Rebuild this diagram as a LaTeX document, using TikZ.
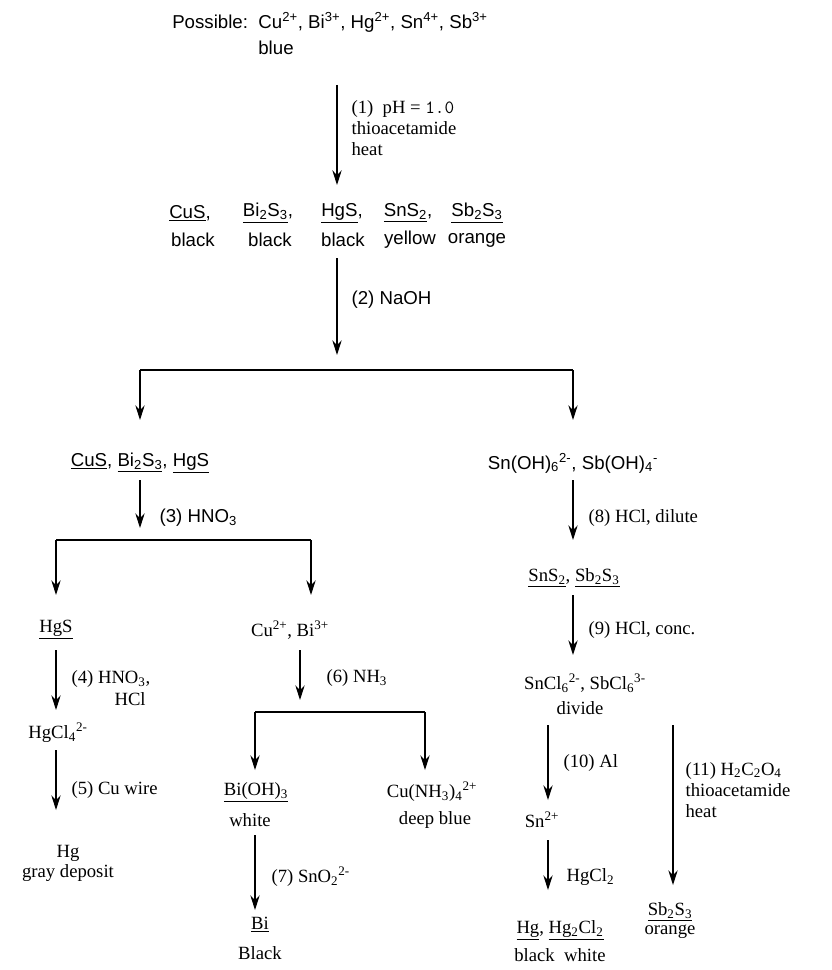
\documentclass[tikz,border=0pt]{standalone}
\usepackage{fontspec}
\setmainfont{Liberation Serif}
\newfontfamily\sansf{Liberation Sans}
\usetikzlibrary{arrows.meta}
\newcommand{\tsp}[1]{\textsuperscript{#1}}
\newcommand{\tsb}[1]{\textsubscript{#1}}
\begin{document}
\begin{tikzpicture}[x=0.75pt,y=-0.75pt,
  every node/.style={inner sep=1pt,font=\fontsize{14}{16}\selectfont},
  sf/.style={font=\fontsize{14}{16}\selectfont\sansf},
  lbl/.style={anchor=west,align=left},
  arr/.style={line width=0.9pt,-{Stealth[length=11pt,width=7pt]}},
  ln/.style={line width=0.9pt}]
\useasboundingbox (0,0) rectangle (831,970);
% top
\node[sf] (top) at (330,22) {Possible:\ \ Cu\tsp{2+}, Bi\tsp{3+}, Hg\tsp{2+}, Sn\tsp{4+}, Sb\tsp{3+}};
\node[sf] (blue) at (276,48) {blue};
\coordinate (a1s) at (337,85); \coordinate (a1e) at (337,185);
\draw[arr] (a1s) -- (a1e);
\node[lbl] (l1) at (350,128) {(1)\ \ pH = {\ttfamily 1.0}\\thioacetamide\\heat};
% row 2
\node[sf] (cus) at (190,213) {\underline{CuS},};
\node[sf] (bis) at (268,213) {\underline{Bi\tsb{2}S\tsb{3}},};
\node[sf] (hgs) at (342,213) {\underline{HgS},};
\node[sf] (sns) at (408,213) {\underline{SnS\tsb{2}},};
\node[sf] (sbs) at (477,213) {\underline{Sb\tsb{2}S\tsb{3}}};
\node[sf] (c1) at (193,240) {black};
\node[sf] (c2) at (270,240) {black};
\node[sf] (c3) at (343,240) {black};
\node[sf] (c4) at (410,240) {yellow};
\node[sf] (c5) at (477,240) {orange};
\coordinate (a2s) at (337,258); \coordinate (a2e) at (337,355);
\draw[arr] (a2s) -- (a2e);
\node[lbl,sf] (l2) at (350,300) {(2)\ NaOH};
\coordinate (s1) at (140,370); \coordinate (s2) at (573,370);
\coordinate (s1e) at (140,420); \coordinate (s2e) at (573,420);
\draw[ln] (s1) -- (s2);
\draw[arr] (s1) -- (s1e);
\draw[arr] (s2) -- (s2e);
% left branch
\node[sf] (grpA) at (140,463) {\underline{CuS}, \underline{Bi\tsb{2}S\tsb{3}}, \underline{HgS}};
\node[sf] (grpB) at (573,463) {Sn(OH)\tsb{6}\tsp{2-}, Sb(OH)\tsb{4}\tsp{-}};
\coordinate (a3s) at (140,480); \coordinate (a3e) at (140,528);
\draw[arr] (a3s) -- (a3e);
\node[lbl,sf] (l3) at (158,518) {(3)\ HNO\tsb{3}};
\coordinate (t1) at (56,540); \coordinate (t2) at (311,540);
\coordinate (t1e) at (56,595); \coordinate (t2e) at (311,595);
\draw[ln] (t1) -- (t2);
\draw[arr] (t1) -- (t1e);
\draw[arr] (t2) -- (t2e);
\node (hgs2) at (56,630) {\underline{HgS}};
\node (cubi) at (290,630) {Cu\tsp{2+}, Bi\tsp{3+}};
\coordinate (a4s) at (56,650); \coordinate (a4e) at (56,710);
\draw[arr] (a4s) -- (a4e);
\node[lbl] (l4) at (70,688) {(4)\ HNO\tsb{3},\\\hspace*{2.3em}HCl};
\node (hgcl) at (58,733) {HgCl\tsb{4}\tsp{2-}};
\coordinate (a5s) at (56,750); \coordinate (a5e) at (56,810);
\draw[arr] (a5s) -- (a5e);
\node[lbl] (l5) at (70,790) {(5)\ Cu wire};
\node (hg) at (68,853) {Hg};
\node (gray) at (68,873) {gray deposit};
% NH3
\coordinate (a6s) at (300,650); \coordinate (a6e) at (300,700);
\draw[arr] (a6s) -- (a6e);
\node[lbl] (l6) at (325,678) {(6)\ NH\tsb{3}};
\coordinate (u1) at (255,712); \coordinate (u2) at (425,712);
\coordinate (u1e) at (255,770); \coordinate (u2e) at (425,770);
\draw[ln] (u1) -- (u2);
\draw[arr] (u1) -- (u1e);
\draw[arr] (u2) -- (u2e);
\node (bioh) at (256,792) {\underline{Bi(OH)\tsb{3}}};
\node (white) at (250,820) {white};
\node (cunh) at (432,792) {Cu(NH\tsb{3})\tsb{4}\tsp{2+}};
\node (deep) at (435,820) {deep blue};
\coordinate (a7s) at (255,835); \coordinate (a7e) at (255,910);
\draw[arr] (a7s) -- (a7e);
\node[lbl] (l7) at (270,877) {(7)\ SnO\tsb{2}\tsp{2-}};
\node (bi) at (260,925) {\underline{Bi}};
\node (black) at (260,953) {Black};
% right branch
\coordinate (a8s) at (573,480); \coordinate (a8e) at (573,540);
\draw[arr] (a8s) -- (a8e);
\node[lbl] (l8) at (587,518) {(8)\ HCl, dilute};
\node (snsb) at (574,578) {\underline{SnS\tsb{2}}, \underline{Sb\tsb{2}S\tsb{3}}};
\coordinate (a9s) at (573,595); \coordinate (a9e) at (573,655);
\draw[arr] (a9s) -- (a9e);
\node[lbl] (l9) at (587,630) {(9)\ HCl, conc.};
\node (sncl) at (585,683) {SnCl\tsb{6}\tsp{2-}, SbCl\tsb{6}\tsp{3-}};
\node (divide) at (580,708) {divide};
\coordinate (a10s) at (548,725); \coordinate (a10e) at (548,800);
\draw[arr] (a10s) -- (a10e);
\node[lbl] (l10) at (562,763) {(10)\ Al};
\node (sn2) at (542,820) {Sn\tsp{2+}};
\coordinate (a12s) at (548,840); \coordinate (a12e) at (548,890);
\draw[arr] (a12s) -- (a12e);
\node[lbl] (l12) at (565,877) {HgCl\tsb{2}};
\node (hghg) at (560,930) {\underline{Hg}, \underline{Hg\tsb{2}Cl\tsb{2}}};
\node (bw) at (560,955) {black\ \ white};
\coordinate (a11s) at (673,725); \coordinate (a11e) at (673,885);
\draw[arr] (a11s) -- (a11e);
\node[lbl] (l11) at (684,790) {(11)\ H\tsb{2}C\tsb{2}O\tsb{4}\\thioacetamide\\heat};
\node (sbs3) at (670,912) {\underline{Sb\tsb{2}S\tsb{3}}};
\node (orange) at (670,932) {orange};
\end{tikzpicture}
\end{document}
